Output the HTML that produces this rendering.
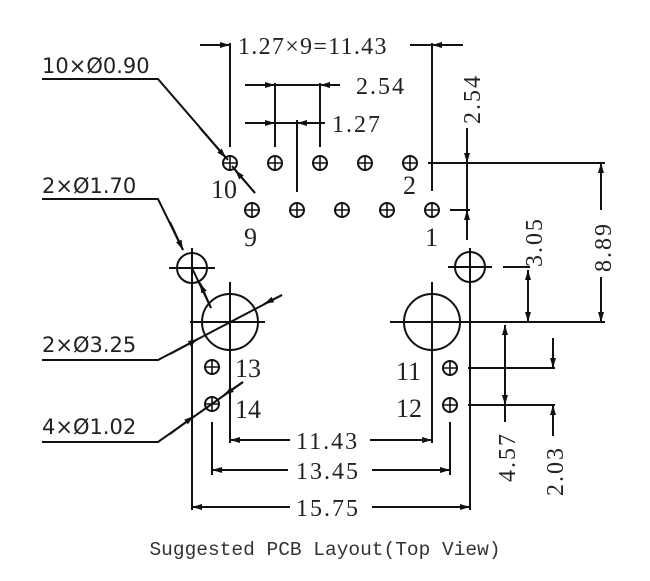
<!DOCTYPE html>
<html><head><meta charset="utf-8"><style>
html,body{margin:0;padding:0;background:#fff;}
svg{display:block}
.s{font-family:"Liberation Serif","Noto Serif CJK SC",serif;fill:#222;letter-spacing:2px}
.n{font-family:"Liberation Serif","Noto Serif CJK SC",serif;fill:#222}
.d{font-family:"DejaVu Sans","Liberation Sans",sans-serif;fill:#222}
.c{font-family:"Liberation Mono","Noto Sans CJK SC",monospace;fill:#333}
</style></head><body>
<svg width="650" height="581" viewBox="0 0 650 581" xmlns="http://www.w3.org/2000/svg">
<defs>
<marker id="a" viewBox="0 0 10 6" refX="10" refY="3" markerWidth="10" markerHeight="6" markerUnits="userSpaceOnUse" orient="auto"><path d="M0,0L10,3L0,6Z" fill="#111"/></marker>
<g id="p"><circle r="7" fill="none" stroke="#111" stroke-width="2"/><path d="M-7,0H7M0,-7V7" stroke="#111" stroke-width="1.6"/></g>
</defs>
<use href="#p" x="230" y="163"/><use href="#p" x="275" y="163"/><use href="#p" x="320" y="163"/><use href="#p" x="365" y="163"/><use href="#p" x="410" y="163"/>
<use href="#p" x="252" y="210"/><use href="#p" x="297" y="210"/><use href="#p" x="342" y="210"/><use href="#p" x="387" y="210"/><use href="#p" x="432" y="210"/>
<use href="#p" x="212" y="367"/><use href="#p" x="212" y="404"/><use href="#p" x="450" y="368"/><use href="#p" x="450" y="405"/>
<g stroke="#111" stroke-width="2" fill="none">
<circle cx="192" cy="268" r="15"/><circle cx="470" cy="267" r="15"/>
<circle cx="230" cy="322" r="28"/><circle cx="432" cy="322" r="28"/>
<path d="M169,268H215M448,267H492M190,322H265M390,322H605"/>
<path d="M230,43V147M432,43V191"/>
<path d="M200,45H230" marker-end="url(#a)"/><path d="M463,45H432" marker-end="url(#a)"/><path d="M410,45H432"/>
<path d="M275,83V147M320,83V147M297,120V192"/>
<path d="M245,85H275" marker-end="url(#a)"/><path d="M275,85H320"/><path d="M340,85H320" marker-end="url(#a)"/>
<path d="M245,123H275" marker-end="url(#a)"/><path d="M275,123H297"/><path d="M325,123H297" marker-end="url(#a)"/>
<path d="M428,163H605M450,210H470"/>
<path d="M467,128V163" marker-end="url(#a)"/><path d="M467,163V210"/><path d="M467,240V210" marker-end="url(#a)"/>
<path d="M503,267H530"/>
<path d="M528,300V270" marker-end="url(#a)"/><path d="M528,290V322" marker-end="url(#a)"/>
<path d="M601,210V163" marker-end="url(#a)"/><path d="M601,277V322" marker-end="url(#a)"/>
<path d="M468,368H555M468,405H555"/>
<path d="M505,360V325" marker-end="url(#a)"/><path d="M505,360V405" marker-end="url(#a)"/><path d="M505,405V422"/>
<path d="M553,338V368" marker-end="url(#a)"/><path d="M553,436V405" marker-end="url(#a)"/>
<path d="M192,248V510M470,248V510M230,282V443M432,282V443M212,422V475M450,422V475"/>
<path d="M290,440H230" marker-end="url(#a)"/><path d="M370,440H432" marker-end="url(#a)"/>
<path d="M288,470H212" marker-end="url(#a)"/><path d="M372,470H450" marker-end="url(#a)"/>
<path d="M290,507H192" marker-end="url(#a)"/><path d="M372,507H470" marker-end="url(#a)"/>
<path d="M42,79H158L228,160" /><path d="M200,128L226,158" marker-end="url(#a)"/>
<path d="M255,193L232,166"/><path d="M255,193L235,170" marker-end="url(#a)"/>
<path d="M42,199H158L183,250"/><path d="M170,222L183,250" marker-end="url(#a)"/>
<path d="M192,268L211,308"/><path d="M211,308L200,283" marker-end="url(#a)"/>
<path d="M42,360H158L282,295"/><path d="M170,354L198,339" marker-end="url(#a)"/><path d="M282,295L264,304" marker-end="url(#a)"/>
<path d="M42,442H158L243,382"/><path d="M170,434L194,416" marker-end="url(#a)"/><path d="M243,382L224,395" marker-end="url(#a)"/>
</g>
<g class="s" font-size="24">
<text x="238" y="54" letter-spacing="1.3">1.27×9=11.43</text>
<text x="356" y="94">2.54</text>
<text x="332" y="132">1.27</text>
<text x="296" y="449">11.43</text>
<text x="296" y="479">13.45</text>
<text x="296" y="516">15.75</text>
<text transform="translate(480,124) rotate(-90)">2.54</text>
<text transform="translate(542,267) rotate(-90)">3.05</text>
<text transform="translate(611,272) rotate(-90)">8.89</text>
<text transform="translate(515,482) rotate(-90)">4.57</text>
<text transform="translate(563,496) rotate(-90)">2.03</text>
</g>
<g class="n" font-size="26">
<text x="211" y="198">10</text>
<text x="244" y="246">9</text>
<text x="403" y="194">2</text>
<text x="425" y="246">1</text>
<text x="235" y="377">13</text>
<text x="235" y="418">14</text>
<text x="396" y="380">11</text>
<text x="396" y="417">12</text>
</g>
<g class="d" font-size="21">
<text x="42" y="73">10×Ø0.90</text>
<text x="42" y="193">2×Ø1.70</text>
<text x="42" y="352">2×Ø3.25</text>
<text x="42" y="434">4×Ø1.02</text>
</g>
<text class="c" x="325" y="555" font-size="19.5" text-anchor="middle">Suggested PCB Layout(Top View)</text>
</svg>
</body></html>
